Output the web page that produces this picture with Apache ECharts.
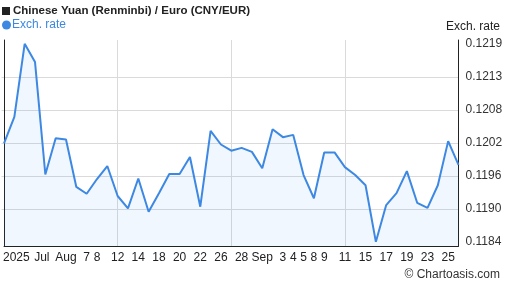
<!DOCTYPE html>
<html>
<head>
<meta charset="utf-8">
<script src="https://cdn.jsdelivr.net/npm/echarts@6/dist/echarts.min.js"></script>
<style>
	html, body { margin: 0; padding: 0; background: #fff; }
	#chart { width: 507px; height: 288px; }
</style>
</head>
<body>
<div id="chart"></div>
<script>
// trading days, Jul 28 - Sep 26 2025
const dates = [
	'2025-07-28', '2025-07-29', '2025-07-30', '2025-07-31', '2025-08-01',
	'2025-08-04', '2025-08-05', '2025-08-06', '2025-08-07', '2025-08-08',
	'2025-08-11', '2025-08-12', '2025-08-13', '2025-08-14', '2025-08-15',
	'2025-08-18', '2025-08-19', '2025-08-20', '2025-08-21', '2025-08-22',
	'2025-08-25', '2025-08-26', '2025-08-27', '2025-08-28', '2025-08-29',
	'2025-09-01', '2025-09-02', '2025-09-03', '2025-09-04', '2025-09-05',
	'2025-09-08', '2025-09-09', '2025-09-10', '2025-09-11', '2025-09-12',
	'2025-09-15', '2025-09-16', '2025-09-17', '2025-09-18', '2025-09-19',
	'2025-09-22', '2025-09-23', '2025-09-24', '2025-09-25', '2025-09-26'
]

const xLabels = [
	'', '2025', '', '', 'Jul',
	'', 'Aug', '', '7', '8',
	'', '12', '', '14', '',
	'18', '', '20', '', '22',
	'', '26', '', '28', '',
	'Sep', '', '3', '4', '5',
	'8', '9', '', '11', '',
	'15', '', '17', '', '19',
	'', '23', '', '25', ''
]

const rates = [
	0.12016, 0.12063, 0.12192, 0.12160, 0.11961,
	0.12025, 0.12023, 0.11939, 0.11927, 0.11953,
	0.11976, 0.11923, 0.11901, 0.11954, 0.11895,
	0.11928, 0.11962, 0.11962, 0.11992, 0.11904,
	0.12038, 0.12014, 0.12003, 0.12008, 0.12001,
	0.11972, 0.12041, 0.12027, 0.12031, 0.11960,
	0.11919, 0.12000, 0.12000, 0.11974, 0.11960,
	0.11942, 0.11842, 0.11907, 0.11928, 0.11967,
	0.11911, 0.11902, 0.11942, 0.12020, 0.11978
]

const yTickLabels = ['0.1184', '0.1190', '0.1196', '0.1202', '0.1208', '0.1213', '0.1219']

const yStep = 0.0035 / 6
const yMin = 203 * yStep
const yMax = 209 * yStep
const yPad = yStep * 4 / 33

const chart = echarts.init(document.getElementById('chart'), null, { renderer: 'canvas' })

const font = 'Liberation Sans, Arial, sans-serif'

// few labels sit a bit off their point in the original
const xLabelShift = { '2025': 'r', Jul: 'l' }

const option = {
	animation: false,
	backgroundColor: '#fff',
	textStyle: { fontFamily: font },
	title: [
		{
			left: 2,
			top: 5,
			padding: 0,
			text: '{sq|}{t|Chinese Yuan (Renminbi) / Euro (CNY/EUR)}',
			textStyle: {
				rich: {
					sq: { backgroundColor: '#222', width: 8, height: 8 },
					t: {
						fontFamily: font,
						fontSize: 11.5,
						fontWeight: 'bold',
						color: '#222',
						padding: [0, 0, 0, 3]
					}
				}
			}
		},
		{
			right: 7,
			top: 21,
			padding: 0,
			text: 'Exch. rate',
			textStyle: { fontFamily: font, fontSize: 12, fontWeight: 'normal', color: '#222' }
		},
		{
			right: 7,
			top: 269,
			padding: 0,
			text: '© Chartoasis.com',
			textStyle: { fontFamily: font, fontSize: 12, fontWeight: 'normal', color: '#333' }
		}
	],
	legend: {
		left: 2,
		top: 19,
		padding: 0,
		icon: 'circle',
		itemWidth: 9,
		itemHeight: 9,
		itemGap: 2,
		textStyle: { fontFamily: font, fontSize: 12, color: '#3d88e2', padding: [0, 0, 0, -4] },
		data: ['Exch. rate']
	},
	grid: [
		{ left: 1.5, right: 48.5, top: 40, bottom: 42 },
		{ left: 1.5, right: 48.5, top: 44, bottom: 46 }
	],
	xAxis: [
		{
			type: 'category',
			gridIndex: 0,
			data: dates,
			boundaryGap: false,
			axisLine: { lineStyle: { color: '#222', width: 1 } },
			axisTick: { show: false },
			axisLabel: {
				interval: 0,
				margin: 6,
				color: '#222',
				fontSize: 12,
				fontFamily: font,
				formatter: (v, i) => {
					const s = xLabels[i]
					return xLabelShift[s] ? '{' + xLabelShift[s] + '|' + s + '}' : s
				},
				rich: {
					l: { fontSize: 12, fontFamily: font, color: '#222', padding: [0, 7, 0, 0] },
					r: { fontSize: 12, fontFamily: font, color: '#222', padding: [0, 0, 0, 4] }
				}
			},
			splitLine: {
				show: true,
				interval: (i) => i % 11 === 0,
				lineStyle: { color: '#dadada', width: 1 }
			}
		},
		{
			type: 'category',
			gridIndex: 1,
			data: dates,
			boundaryGap: false,
			show: false
		}
	],
	yAxis: [
		{
			type: 'value',
			gridIndex: 0,
			position: 'left',
			min: yMin - yPad,
			max: yMax + yPad,
			axisLine: { show: true, lineStyle: { color: '#222', width: 1 } },
			axisTick: { show: false },
			axisLabel: { show: false },
			splitLine: { show: false }
		},
		{
			type: 'value',
			gridIndex: 0,
			position: 'right',
			min: yMin - yPad,
			max: yMax + yPad,
			axisLine: { show: true, lineStyle: { color: '#222', width: 1 } },
			axisTick: { show: false },
			axisLabel: { show: false },
			splitLine: { show: false }
		},
		{
			type: 'value',
			gridIndex: 1,
			position: 'right',
			min: yMin,
			max: yMax,
			interval: yStep,
			axisLine: { show: false },
			axisTick: { show: false },
			axisLabel: {
				margin: 7,
				color: '#333',
				fontSize: 12,
				fontFamily: font,
				formatter: (v, i) => yTickLabels[i]
			},
			splitLine: {
				show: true,
				showMinLine: false,
				showMaxLine: false,
				lineStyle: { color: '#dadada', width: 1 }
			}
		}
	],
	series: [
		{
			name: 'Exch. rate',
			type: 'line',
			xAxisIndex: 0,
			yAxisIndex: 0,
			data: rates,
			symbol: 'none',
			smooth: false,
			itemStyle: { color: '#3d88e2' },
			lineStyle: { color: '#3d88e2', width: 2 },
			areaStyle: { color: 'rgba(61, 145, 240, 0.1)', origin: 'start' }
		}
	]
}

chart.setOption(option)
</script>
</body>
</html>
